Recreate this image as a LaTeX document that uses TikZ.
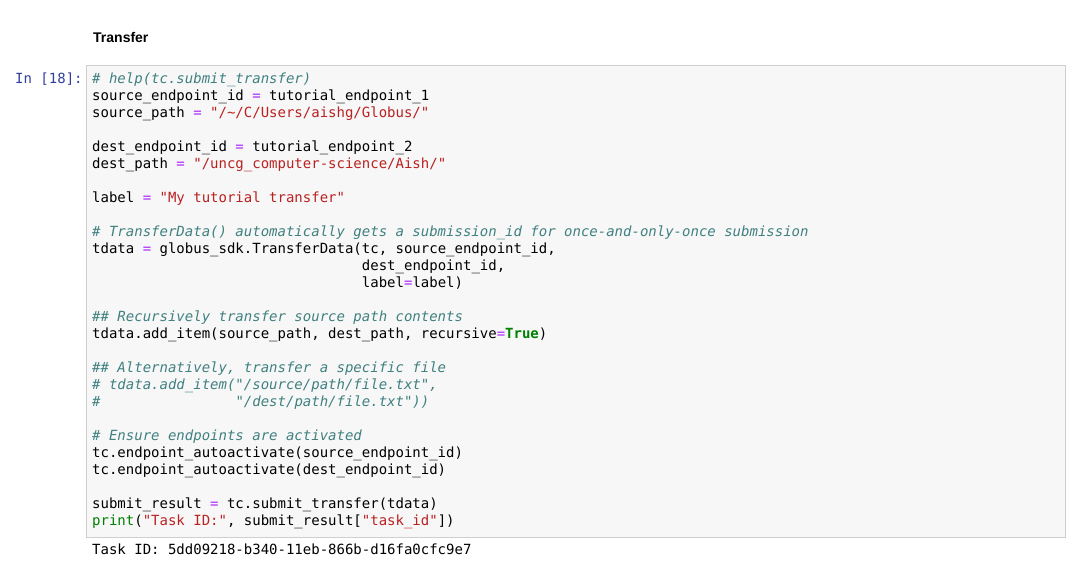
\documentclass[tikz,border=0pt]{standalone}
\usepackage{fontspec}
\setmainfont{Liberation Sans}
\newfontfamily\codefont{DejaVu Sans Mono}
\definecolor{cmtc}{HTML}{408080}
\definecolor{strc}{HTML}{BA2121}
\definecolor{opc}{HTML}{AA22FF}
\definecolor{kwc}{HTML}{008000}
\definecolor{promptc}{HTML}{303F9F}
\newcommand{\Cm}[1]{\textcolor{cmtc}{\itshape #1}}
\newcommand{\Sq}[1]{\textcolor{strc}{#1}}
\newcommand{\Op}{\textcolor{opc}{=}}
\newcommand{\Ind}[1]{\hspace*{\dimexpr #1\dimexpr 8.43pt\relax\relax}}
\begin{document}
\begin{tikzpicture}[x=1pt,y=-1pt,
  code/.style={anchor=base west,inner sep=0pt,font=\codefont\fontsize{14}{17}\selectfont}]
\useasboundingbox (0,0) rectangle (1082,563);
\node[anchor=base west,inner sep=0pt,font=\bfseries\fontsize{14}{17}\selectfont] (title) at (93,42) {Transfer};
\node[code,text=promptc] (prompt) at (15,83) {In [18]:};
\path[fill={rgb,255:red,247;green,247;blue,247},draw={rgb,255:red,207;green,207;blue,207}] (86,65) rectangle (1065,537);
\node[code] (l1) at (92,83) {\Cm{\# help(tc.submit\_transfer)}};
\node[code] (l2) at (92,100) {source\_endpoint\_id \Op{} tutorial\_endpoint\_1};
\node[code] (l3) at (92,117) {source\_path \Op{} \Sq{"/\textasciitilde/C/Users/aishg/Globus/"}};
\node[code] (l5) at (92,151) {dest\_endpoint\_id \Op{} tutorial\_endpoint\_2};
\node[code] (l6) at (92,168) {dest\_path \Op{} \Sq{"/uncg\_computer-science/Aish/"}};
\node[code] (l8) at (92,202) {label \Op{} \Sq{"My tutorial transfer"}};
\node[code] (l10) at (92,236) {\Cm{\# TransferData() automatically gets a submission\_id for once-and-only-once submission}};
\node[code] (l11) at (92,253) {tdata \Op{} globus\_sdk.TransferData(tc, source\_endpoint\_id,};
\node[code] (l12) at (92,270) {\Ind{32}dest\_endpoint\_id,};
\node[code] (l13) at (92,287) {\Ind{32}label\Op{}label)};
\node[code] (l15) at (92,321) {\Cm{\#\# Recursively transfer source path contents}};
\node[code] (l16) at (92,338) {tdata.add\_item(source\_path, dest\_path, recursive\Op{}\textcolor{kwc}{\bfseries True})};
\node[code] (l18) at (92,372) {\Cm{\#\# Alternatively, transfer a specific file}};
\node[code] (l19) at (92,389) {\Cm{\# tdata.add\_item("/source/path/file.txt",}};
\node[code] (l20) at (92,406) {\Cm{\#\Ind{16}"/dest/path/file.txt"))}};
\node[code] (l22) at (92,440) {\Cm{\# Ensure endpoints are activated}};
\node[code] (l23) at (92,457) {tc.endpoint\_autoactivate(source\_endpoint\_id)};
\node[code] (l24) at (92,474) {tc.endpoint\_autoactivate(dest\_endpoint\_id)};
\node[code] (l26) at (92,508) {submit\_result \Op{} tc.submit\_transfer(tdata)};
\node[code] (l27) at (92,525) {\textcolor{kwc}{print}(\Sq{"Task ID:"}, submit\_result[\Sq{"task\_id"}])};
\node[code] (out) at (92,554) {Task ID: 5dd09218-b340-11eb-866b-d16fa0cfc9e7};
\end{tikzpicture}
\end{document}
